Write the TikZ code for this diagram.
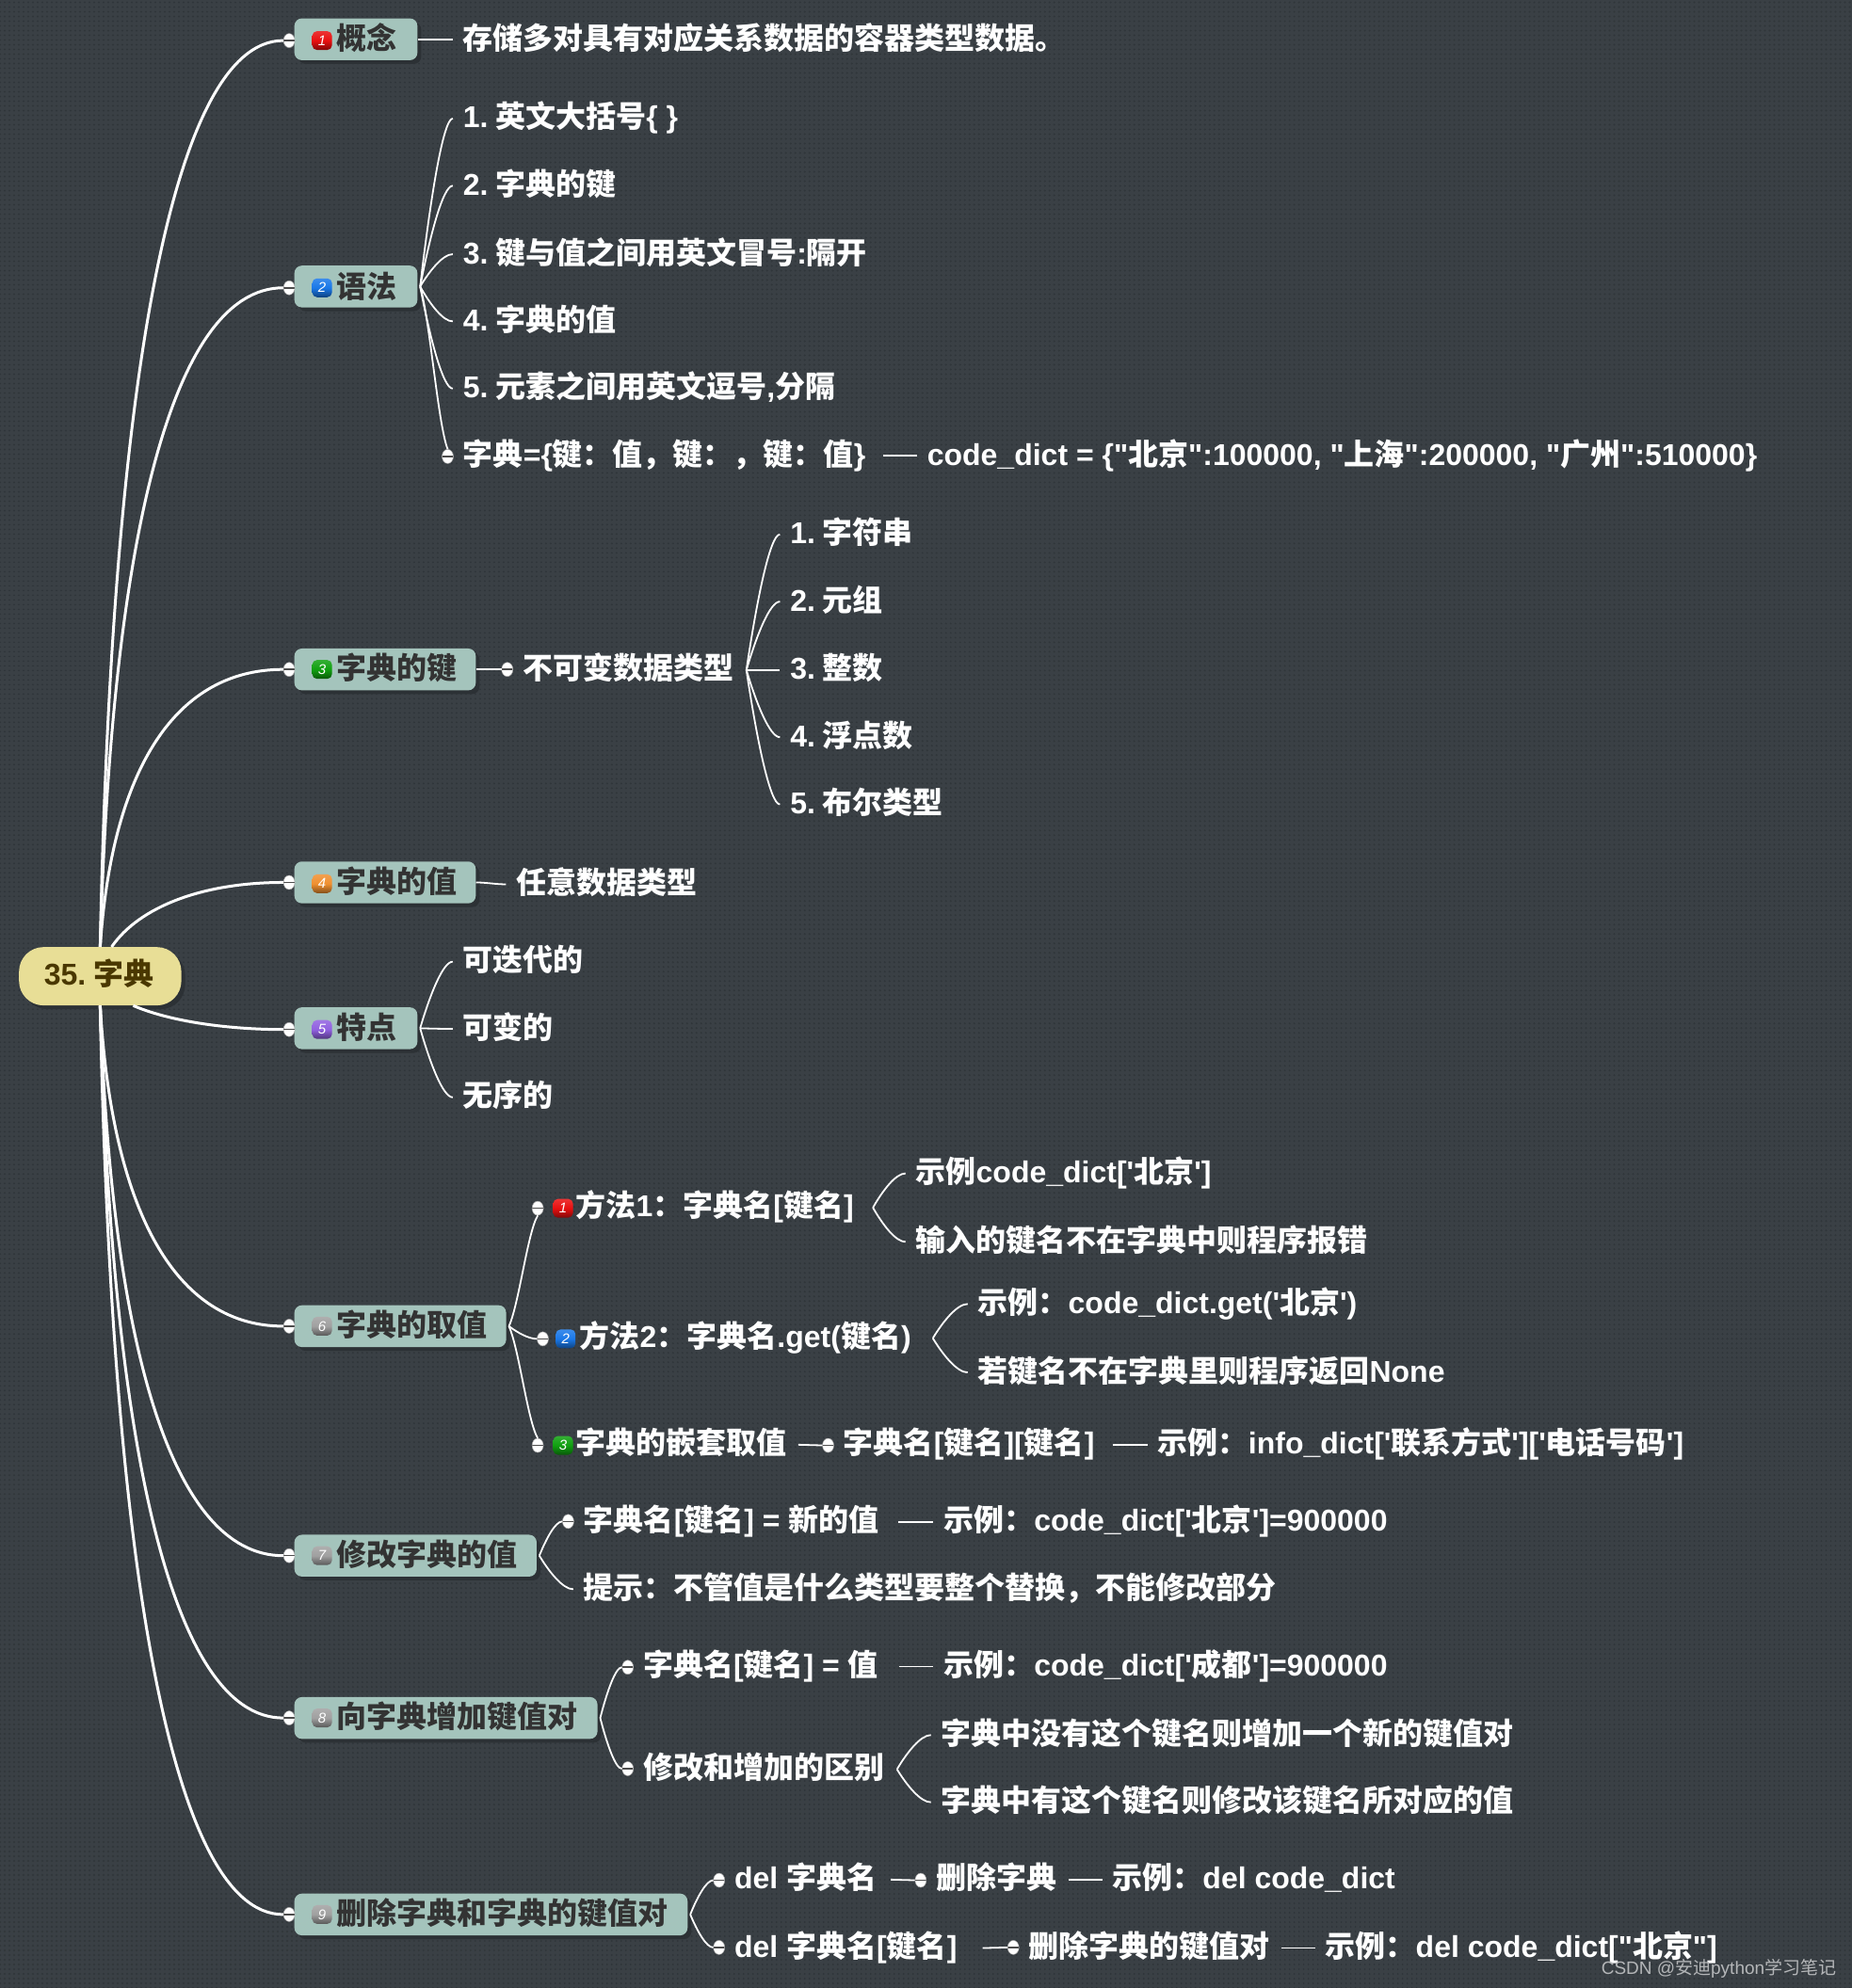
\documentclass[tikz,border=0pt]{standalone}
\usepackage{fontspec}
\usetikzlibrary{calc,shadows,shapes.geometric,patterns.meta}
\newfontfamily\latf{Liberation Sans}
\newfontfamily\cjkf{Noto Sans CJK SC}
\newcommand\zh[1]{{\cjkf #1}}
\newcommand\nsp{ \kern-4pt}
\def\uu{1.3473pt}
\definecolor{bgc}{HTML}{3A4045}
\definecolor{dotc}{HTML}{30363A}
\definecolor{boxc}{HTML}{A4C4BC}
\definecolor{rootc}{HTML}{E8DE96}
\definecolor{shc}{HTML}{2C3135}
\definecolor{rootx}{HTML}{4A3800}
\definecolor{icr}{HTML}{E81010}
\definecolor{icb}{HTML}{1A78E8}
\definecolor{icg}{HTML}{10A010}
\definecolor{ico}{HTML}{F09030}
\definecolor{icp}{HTML}{9060E0}
\definecolor{icy}{HTML}{A0A0A0}
\tikzset{
 txt/.style={anchor=west,yshift=-2pt,inner xsep=8*\uu,inner ysep=0pt,text height=28pt,text depth=8pt,font=\latf\bfseries\fontsize{32pt}{36pt}\selectfont,text=white},
 btxt/.style={txt,text=black!80},
 bbox/.style={anchor=west,fill=boxc,rounded corners=8pt,minimum height=33*\uu,inner sep=0pt,drop shadow={shadow xshift=4pt,shadow yshift=-4pt,fill=shc,opacity=1}},
 rootbox/.style={fill=rootc,rounded corners=26pt,minimum width=128*\uu,minimum height=46*\uu,inner sep=0pt,drop shadow={shadow xshift=4pt,shadow yshift=-4pt,fill=shc,opacity=1}},
 coll/.style={ellipse,fill=white,draw=black!35,line width=.5pt,minimum width=12pt,minimum height=15pt,inner sep=0pt,path picture={\draw[black!70,line width=1.5pt] (path picture bounding box.west) -- (path picture bounding box.east);}},
 icon/.style={rounded corners=5pt,minimum width=21pt,minimum height=20pt,inner sep=0pt,text=white,font=\latf\itshape\fontsize{15pt}{15pt}\selectfont},
 ired/.style={icon,top color=#1!85!white,bottom color=#1!55!black,middle color=#1},
 thick line/.style={draw=white,line width=3pt},
 thin line/.style={draw=white,line width=1.8pt},
}
\newcommand\trunk[2]{\draw[thick line] (#1) let \p1=(#1),\p2=(#2) in .. controls ({\x1+.06*(\x2-\x1)},{\y1+.6*(\y2-\y1)}) and ({\x1+.376*(\x2-\x1)},\y2) .. (#2);}
\newcommand\kid[2]{\draw[thin line] (#1) let \p1=(#1),\p2=(#2) in .. controls ({\x1+.3*(\x2-\x1)},{\y1+.5*(\y2-\y1)}) and ({\x1+.7*(\x2-\x1)},\y2) .. (#2);}
\newcommand\kidv[2]{\draw[thin line] (#1) let \p1=(#1),\p2=(#2) in .. controls ({\x1+.35*(\x2-\x1)},{\y1+.2*(\y2-\y1)}) and ({\x1+.65*(\x2-\x1)},{\y1+.85*(\y2-\y1)}) .. (#2);}
\newcommand\gap[3][6]{\draw[thin line] ([xshift=#1*\uu]#2.east) -- (#3.west);}
\begin{document}
\begin{tikzpicture}[x=\uu,y=-\uu]
\path[use as bounding box,fill=bgc] (0,0) rectangle (1460,1568);
\path[pattern={Dots[distance=5pt,radius=1.1pt]},pattern color=dotc] (0,0) rectangle (1460,1568);
% nodes
\node[rootbox] (root) at (79,770) {};
\node[txt,text=rootx,anchor=center] (roott) at (78,768) {35.\nsp\zh{字典}};
\foreach \k/\w/\yy in {1/97/31,2/97/226,3/143/528,4/143/696,5/97/811,6/167/1046,7/191/1227,8/239/1355,9/310/1510}
  \node[bbox,minimum width=\w*\uu] (b\k) at (232,\yy) {};
\foreach \k/\yy in {1/32,2/227,3/528,4/696,5/812,6/1046,7/1227,8/1355,9/1510}
  \node[coll] (c\k) at (228,\yy) {};
\node[ired=icr] (i1) at (254,32) {1};
\node[ired=icb] (i2) at (254,227) {2};
\node[ired=icg] (i3) at (254,528) {3};
\node[ired=ico] (i4) at (254,697) {4};
\node[ired=icp] (i5) at (254,812) {5};
\node[ired=icy] (i6) at (254,1046) {6};
\node[ired=icy] (i7) at (254,1227) {7};
\node[ired=icy] (i8) at (254,1355) {8};
\node[ired=icy] (i9) at (254,1510) {9};
\node[btxt] (bt1) at (257,30) {\zh{概念}};
\node[btxt] (bt2) at (257,226) {\zh{语法}};
\node[btxt] (bt3) at (257,527) {\zh{字典的键}};
\node[btxt] (bt4) at (257,695) {\zh{字典的值}};
\node[btxt] (bt5) at (257,810) {\zh{特点}};
\node[btxt] (bt6) at (257,1045) {\zh{字典的取值}};
\node[btxt] (bt7) at (257,1226) {\zh{修改字典的值}};
\node[btxt] (bt8) at (257,1354) {\zh{向字典增加键值对}};
\node[btxt] (bt9) at (257,1509) {\zh{删除字典和字典的键值对}};
% first level texts
\node[txt] (a1) at (357,30) {\zh{存储多对具有对应关系数据的容器类型数据。}};
\node[txt] (s1) at (357,92) {1.\nsp\zh{英文大括号}\{ \}};
\node[txt] (s2) at (357,145) {2.\nsp\zh{字典的键}};
\node[txt] (s3) at (357,199) {3.\nsp\zh{键与值之间用英文冒号}:\zh{隔开}};
\node[txt] (s4) at (357,252) {4.\nsp\zh{字典的值}};
\node[txt] (s5) at (357,305) {5.\nsp\zh{元素之间用英文逗号},\zh{分隔}};
\node[coll] (cs6) at (353,360) {};
\node[txt] (s6) at (357,358) {\zh{字典}=\{\zh{键：值，键：，键：值}\}};
\node[txt] (s6a) at (723,358) {code\_dict = \{"\zh{北京}":100000, "\zh{上海}":200000, "\zh{广州}":510000\}};
\node[coll] (c31) at (400,528) {};
\node[txt] (k0) at (404,527) {\zh{不可变数据类型}};
\node[txt] (k1) at (615,420) {1.\nsp\zh{字符串}};
\node[txt] (k2) at (615,473) {2.\nsp\zh{元组}};
\node[txt] (k3) at (615,527) {3.\nsp\zh{整数}};
\node[txt] (k4) at (615,580) {4.\nsp\zh{浮点数}};
\node[txt] (k5) at (615,633) {5.\nsp\zh{布尔类型}};
\node[txt] (v1) at (399,696) {\zh{任意数据类型}};
\node[txt] (f1) at (357,757) {\zh{可迭代的}};
\node[txt] (f2) at (357,810) {\zh{可变的}};
\node[txt] (f3) at (357,864) {\zh{无序的}};
% values
\node[coll] (cg1) at (424,953) {};
\node[ired=icr] (ig1) at (444,953) {1};
\node[txt] (g1) at (446,951) {\zh{方法}1\zh{：字典名}[\zh{键名}]};
\node[txt] (g11) at (714,924) {\zh{示例}code\_dict['\zh{北京}']};
\node[txt] (g12) at (714,978) {\zh{输入的键名不在字典中则程序报错}};
\node[coll] (cg2) at (428,1056) {};
\node[ired=icb] (ig2) at (446,1056) {2};
\node[txt] (g2) at (449,1054) {\zh{方法}2\zh{：字典名}.get(\zh{键名})};
\node[txt] (g21) at (763,1027) {\zh{示例：}code\_dict.get('\zh{北京}')};
\node[txt] (g22) at (763,1081) {\zh{若键名不在字典里则程序返回}None};
\node[coll] (cg3) at (424,1140) {};
\node[ired=icg] (ig3) at (444,1140) {3};
\node[txt] (g3) at (446,1138) {\zh{字典的嵌套取值}};
\node[coll] (cg31) at (653,1140) {};
\node[txt] (g31) at (657,1138) {\zh{字典名}[\zh{键名}][\zh{键名}]};
\node[txt] (g32) at (905,1138) {\zh{示例：}info\_dict['\zh{联系方式}']['\zh{电话号码}']};
% modify
\node[coll] (cm1) at (448,1200) {};
\node[txt] (m1) at (452,1199) {\zh{字典名}[\zh{键名}] = \zh{新的值}};
\node[txt] (m11) at (736,1199) {\zh{示例：}code\_dict['\zh{北京}']=900000};
\node[txt] (m2) at (452,1252) {\zh{提示：不管值是什么类型要整个替换，不能修改部分}};
% add
\node[coll] (cd1) at (495,1315) {};
\node[txt] (d1) at (499,1313) {\zh{字典名}[\zh{键名}] = \zh{值}};
\node[txt] (d11) at (736,1313) {\zh{示例：}code\_dict['\zh{成都}']=900000};
\node[coll] (cd2) at (495,1395) {};
\node[txt] (d2) at (499,1394) {\zh{修改和增加的区别}};
\node[txt] (d21) at (734,1367) {\zh{字典中没有这个键名则增加一个新的键值对}};
\node[txt] (d22) at (734,1420) {\zh{字典中有这个键名则修改该键名所对应的值}};
% delete
\node[coll] (ce1) at (567,1483) {};
\node[txt] (e1) at (571,1481) {del \zh{字典名}};
\node[coll] (ce11) at (726,1483) {};
\node[txt] (e11) at (730,1481) {\zh{删除字典}};
\node[txt] (e12) at (869,1481) {\zh{示例：}del code\_dict};
\node[coll] (ce2) at (567,1536) {};
\node[txt] (e2) at (571,1535) {del \zh{字典名}[\zh{键名}]};
\node[coll] (ce21) at (799,1536) {};
\node[txt] (e21) at (803,1535) {\zh{删除字典的键值对}};
\node[txt] (e22) at (1037,1535) {\zh{示例：}del code\_dict["\zh{北京}"]};
\node[anchor=east,inner sep=0pt,text=white!62!bgc,font=\latf\fontsize{19pt}{21pt}\selectfont] (wm) at (1448,1553) {CSDN @\zh{安迪}python\zh{学习笔记}};
% trunks
\foreach \k in {1,2,3} {\trunk{root.north}{c\k.west}}
\foreach \k in {6,7,8,9} {\trunk{root.south}{c\k.west}}
\draw[thick line] ([xshift=9*\uu]root.north) .. controls (110,715) and (160,696) .. (c4.west);
\draw[thick line] ([xshift=26*\uu]root.south) .. controls (140,808) and (190,812) .. (c5.west);
% branches
\draw[thin line] (b1.east) -- (b1.east -| a1.west);
\foreach \k in {1,...,5} {\kid{[xshift=2*\uu]b2.east}{s\k.west}}
\kidv{[xshift=2*\uu]b2.east}{cs6.north}
\gap{s6}{s6a}
\draw[thin line] (b3.east) -- (c31.west);
\foreach \k in {1,...,5} {\kid{[xshift=2*\uu]k0.east}{k\k.west}}
\draw[thin line] (b4.east) .. controls +(8,0) and +(-8,0) .. (v1.west);
\foreach \k in {1,2,3} {\kid{[xshift=2*\uu]b5.east}{f\k.west}}
\kidv{[xshift=2*\uu]b6.east}{cg1.south}
\kid{[xshift=2*\uu]b6.east}{cg2.west}
\kidv{[xshift=2*\uu]b6.east}{cg3.north}
\foreach \k in {1,2} {\kid{[xshift=7*\uu]g1.east}{g1\k.west}\kid{[xshift=9*\uu]g2.east}{g2\k.west}}
\draw[thin line] ([xshift=1*\uu]g3.east) -- (cg31.west);
\gap{g31}{g32}
\kid{[xshift=2*\uu]b7.east}{cm1.west}
\kid{[xshift=2*\uu]b7.east}{m2.west}
\gap[7]{m1}{m11}
\kid{[xshift=2*\uu]b8.east}{cd1.west}
\kid{[xshift=2*\uu]b8.east}{cd2.west}
\gap[8]{d1}{d11}
\kid{[xshift=2*\uu]d2.east}{d21.west}
\kid{[xshift=2*\uu]d2.east}{d22.west}
\kid{[xshift=2*\uu]b9.east}{ce1.west}
\kid{[xshift=2*\uu]b9.east}{ce2.west}
\draw[thin line] ([xshift=3*\uu]e1.east) -- (ce11.west);
\gap[1]{e11}{e12}
\draw[thin line] ([xshift=12*\uu]e2.east) -- (ce21.west);
\gap[1]{e21}{e22}
\end{tikzpicture}
\end{document}
